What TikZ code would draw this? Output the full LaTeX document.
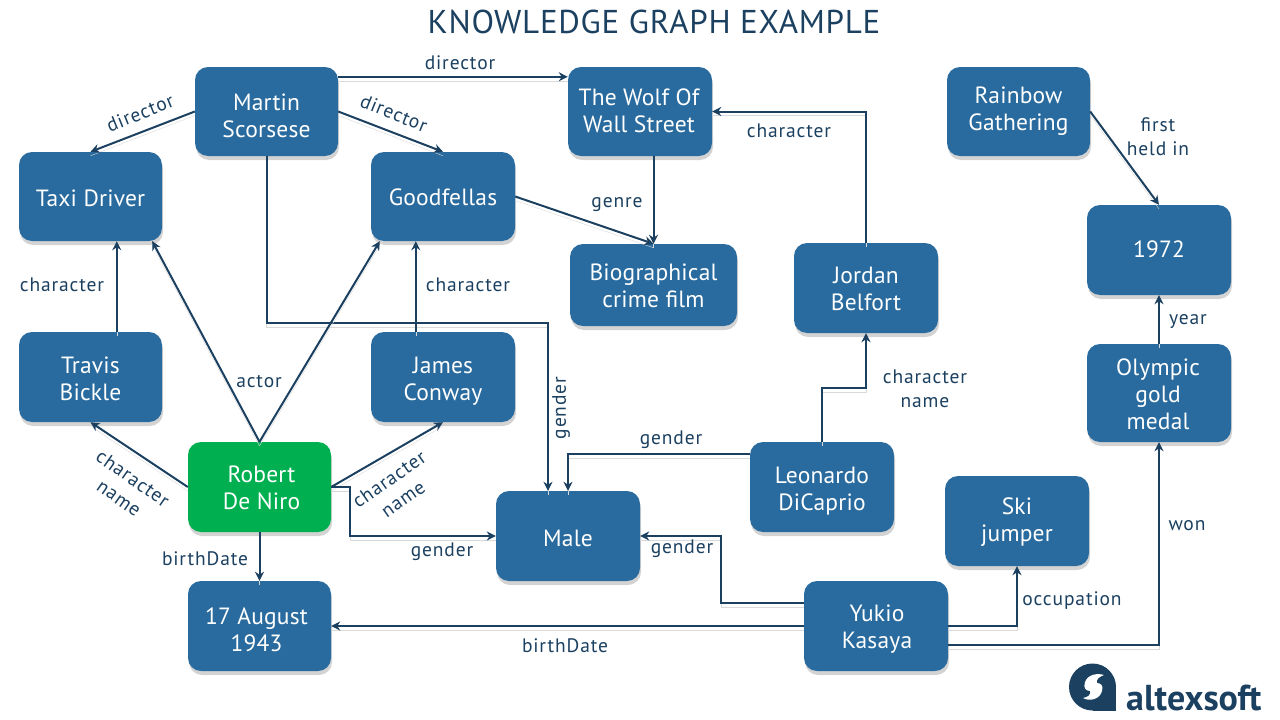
\documentclass[tikz,border=0pt]{standalone}
\usepackage{fontspec}
\setmainfont{PT Sans}
\usetikzlibrary{arrows.meta,calc,shadows,positioning}
\definecolor{boxc}{HTML}{296B9E}
\definecolor{greenc}{HTML}{00B050}
\definecolor{edgec}{HTML}{1B4060}
\tikzset{
 ent/.style={draw=none,fill=boxc,rounded corners=13pt,inner sep=0pt,
   drop shadow={opacity=0.35,shadow xshift=1pt,shadow yshift=-4pt}},
 rootent/.style={ent,fill=greenc},
 enttext/.style={inner sep=0pt,align=center,text=white,
   font=\fontsize{23.5}{27}\selectfont\addfontfeature{LetterSpace=0.8}},
 lbl/.style={inner sep=0pt,align=center,text=edgec,font=\fontsize{19.5}{24}\selectfont\addfontfeature{LetterSpace=4.5}},
 edge/.style={draw=edgec,line width=2pt,-{Stealth[length=9pt,width=9pt]},
   preaction={draw=black!15,-,transform canvas={yshift=-4pt}}},
}
% [style]{name}{position}{width}{height}{text shift x,y}{text}
\newcommand{\ent}[7][ent]{\node[#1,minimum width=#4pt,minimum height=#5pt,label={[enttext,shift={(#6)}]center:{#7}}] (#2) at (#3) {};}
\begin{document}
\begin{tikzpicture}[x=1pt,y=-1pt]
\useasboundingbox (0,0) rectangle (1280,720);
\node[inner sep=0pt,text=edgec,font=\fontsize{33}{36}\selectfont\addfontfeature{LetterSpace=2.2}] (title) at (654,22) {KNOWLEDGE GRAPH EXAMPLE};
\ent{ms}{266.5,111.5}{143}{89}{0,4}{Martin\\Scorsese}
\ent{td}{90.5,196.5}{143}{89}{0,2}{Taxi Driver}
\ent{gf}{443,196.5}{144}{89}{0,1}{Goodfellas}
\ent{ww}{640,111.5}{144}{89}{-1,-1}{The Wolf Of\\Wall Street}
\ent{bc}{653.5,285}{167}{82}{0,1}{Biographical\\crime film}
\ent{rg}{1018.5,111.5}{143}{89}{0,0}{Rainbow\\Gathering}
\ent{yr}{1159,250}{144}{90}{0,-1}{1972}
\ent{jb}{866,288}{144}{90}{0,1}{Jordan\\Belfort}
\ent{og}{1159,393}{144}{98}{-1,1}{Olympic\\gold\\medal}
\ent{tb}{90.5,377}{143}{90}{0,2}{Travis\\Bickle}
\ent{jc}{443,377}{144}{90}{0,4}{James\\Conway}
\ent[rootent]{rd}{259.5,487}{143}{90}{2,1}{Robert\\De Niro}
\ent{ma}{568,536}{144}{90}{0,2}{Male}
\ent{ld}{822,487}{144}{90}{0,4}{Leonardo\\DiCaprio}
\ent{sj}{1017,521}{144}{90}{0,1}{Ski\\jumper}
\ent{dt}{259.5,626}{143}{90}{-3,4}{17 August\\1943}
\ent{yk}{876,626}{144}{90}{1,3}{Yukio\\Kasaya}
% connectors
\draw[edge] ($(ms.north east)+(0,10)$) -- ($(ww.north west)+(0,10)$);
\draw[edge] (ms.west) -- (td.north);
\draw[edge] (ms.east) -- (gf.north);
\draw[edge] (ms.south) -- ++(0,167) -| ($(ma.north)+(-20,0)$);
\draw[edge] (gf.east) -- (bc.north);
\draw[edge] (ww.south -| bc.north) -- (bc.north);
\draw[edge] (jb.north) |- (ww.east);
\draw[edge] (rg.east) -- (yr.north);
\draw[edge] (og.north) -- (yr.south);
\draw[edge] ($(yk.south east)+(0,-26)$) -| (og.south);
\draw[edge] ($(yk.north east)+(0,45)$) -| (sj.south);
\draw[edge] (yk.west) -- (dt.east);
\draw[edge] ($(yk.north west)+(0,22)$) -- ++(-83,0) |- (ma.east);
\draw[edge] ($(ld.north west)+(0,12)$) -| (ma.north);
\draw[edge] (ld.north) -- ++(0,-54) -| (jb.south);
\draw[edge] (rd.west) -- (tb.south);
\draw[edge] (rd.north) -- ($(td.south east)+(-10,0)$);
\draw[edge] (rd.north) -- ($(gf.south west)+(9,0)$);
\draw[edge] ($(jc.north west)+(45,0)$) -- ($(gf.south west)+(45,0)$);
\draw[edge] ($(tb.north west)+(98,0)$) -- ($(td.south west)+(98,0)$);
\draw[edge] (rd.east) -- (jc.south);
\draw[edge] (rd.east) -- ++(19,0) |- (ma.west);
\draw[edge] (rd.south) -- (dt.north);
% labels
\node[lbl] (l1) at (460,63) {director};
\node[lbl,rotate=22] (l2) at (140,113) {director};
\node[lbl,rotate=-22] (l3) at (394,113) {director};
\node[lbl] (l4) at (617,205) {genre};
\node[lbl] (l5) at (789,131) {character};
\node[lbl] (l6) at (1158,137) {first\\held in};
\node[lbl] (l7) at (1188,322) {year};
\node[lbl] (l8) at (1187,526) {won};
\node[lbl] (l9) at (1072,601) {occupation};
\node[lbl] (l10) at (565,646) {birthDate};
\node[lbl] (l11) at (682,549) {gender};
\node[lbl] (l12) at (671,440) {gender};
\node[lbl] (l13) at (925,389) {character\\name};
\node[lbl,rotate=-35] (l14) at (126,488) {character\\name};
\node[lbl] (l15) at (259,382) {actor};
\node[lbl] (l16) at (468,285) {character};
\node[lbl] (l17) at (62,285) {character};
\node[lbl,rotate=35] (l18) at (396,489) {character\\name};
\node[lbl] (l19) at (442,552) {gender};
\node[lbl] (l20) at (205,559) {birthDate};
\node[lbl,rotate=90] (l21) at (561,408) {gender};
% logo
\fill[edgec] (1092.5,687) circle[radius=23.5];
\fill[edgec] (1092.5,687) rectangle (1116,710.5);
\fill[white] (1104,675) .. controls (1098,673) and (1088,674) .. (1085,682) .. controls (1083,688) and (1086,691) .. (1090,691) .. controls (1091,695) and (1088,697) .. (1083,698) .. controls (1090,702) and (1100,699) .. (1102,691) .. controls (1104,685) and (1100,683) .. (1097,683) .. controls (1096,679) and (1099,677) .. (1104,675) -- cycle;
\node[inner sep=0pt,anchor=base west,text=edgec,font=\fontsize{36}{36}\selectfont\bfseries] (logotext) at (1126,710) {altexsoft};
\end{tikzpicture}
\end{document}
